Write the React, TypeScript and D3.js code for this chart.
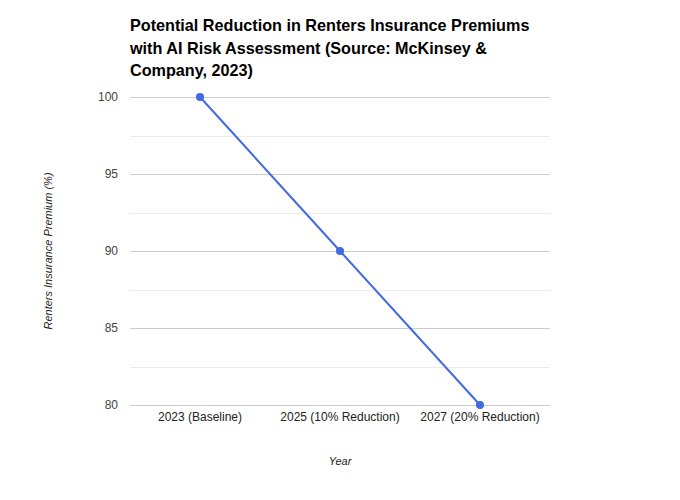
import React from "react";
import * as d3 from "d3";

const categories = ["2023 (Baseline)", "2025 (10% Reduction)", "2027 (20% Reduction)"];
const premiums = [100, 90, 80];
const majorTicks = [80, 85, 90, 95, 100];
const minorTicks = [82.5, 87.5, 92.5, 97.5];
const titleLines = [
  "Potential Reduction in Renters Insurance Premiums",
  "with AI Risk Assessment (Source: McKinsey &",
  "Company, 2023)",
];

export default function App() {
  const W = 680, H = 500;
  const left = 130, right = 550, top = 97, bottom = 405;
  const x = d3.scaleBand<string>().domain(categories).range([left, right]);
  const y = d3.scaleLinear().domain([80, 100]).range([bottom, top]);
  const pts = categories.map((c, i) => [x(c)! + x.bandwidth() / 2, y(premiums[i])] as [number, number]);
  const line = d3.line()(pts) || "";
  const font = "Arial, 'Liberation Sans', sans-serif";
  return (
    <svg width={W} height={H} style={{ position: "absolute", left: 0, top: 0, background: "#fff" }} fontFamily={font}>
      <rect width={W} height={H} fill="#fff" />
      {titleLines.map((t, i) => (
        <text key={i} x={130} y={31 + i * 22.5} fontSize={16.2} fontWeight="bold" fill="#000">{t}</text>
      ))}
      {minorTicks.map((t) => (
        <line key={"m" + t} x1={left} x2={right} y1={Math.round(y(t)) + 0.5} y2={Math.round(y(t)) + 0.5} stroke="#ebebeb" />
      ))}
      {majorTicks.map((t) => (
        <g key={t}>
          <line x1={left} x2={right} y1={Math.round(y(t)) + 0.5} y2={Math.round(y(t)) + 0.5} stroke="#cccccc" />
          <text x={118} y={y(t) + 4} textAnchor="end" fontSize={12} fill="#444">{t}</text>
        </g>
      ))}
      {categories.map((c) => (
        <text key={c} x={x(c)! + x.bandwidth() / 2} y={421} textAnchor="middle" fontSize={12} fill="#222">{c}</text>
      ))}
      <path d={line} fill="none" stroke="#4169e1" strokeWidth={2} />
      {pts.map((p, i) => (
        <circle key={i} cx={p[0]} cy={p[1]} r={4} fill="#4169e1" />
      ))}
      <text x={340} y={465} textAnchor="middle" fontSize={11} fontStyle="italic" fill="#222">Year</text>
      <text transform={`translate(52,${(top + bottom) / 2}) rotate(-90)`} textAnchor="middle" fontSize={11} fontStyle="italic" fill="#222">Renters Insurance Premium (%)</text>
    </svg>
  );
}
